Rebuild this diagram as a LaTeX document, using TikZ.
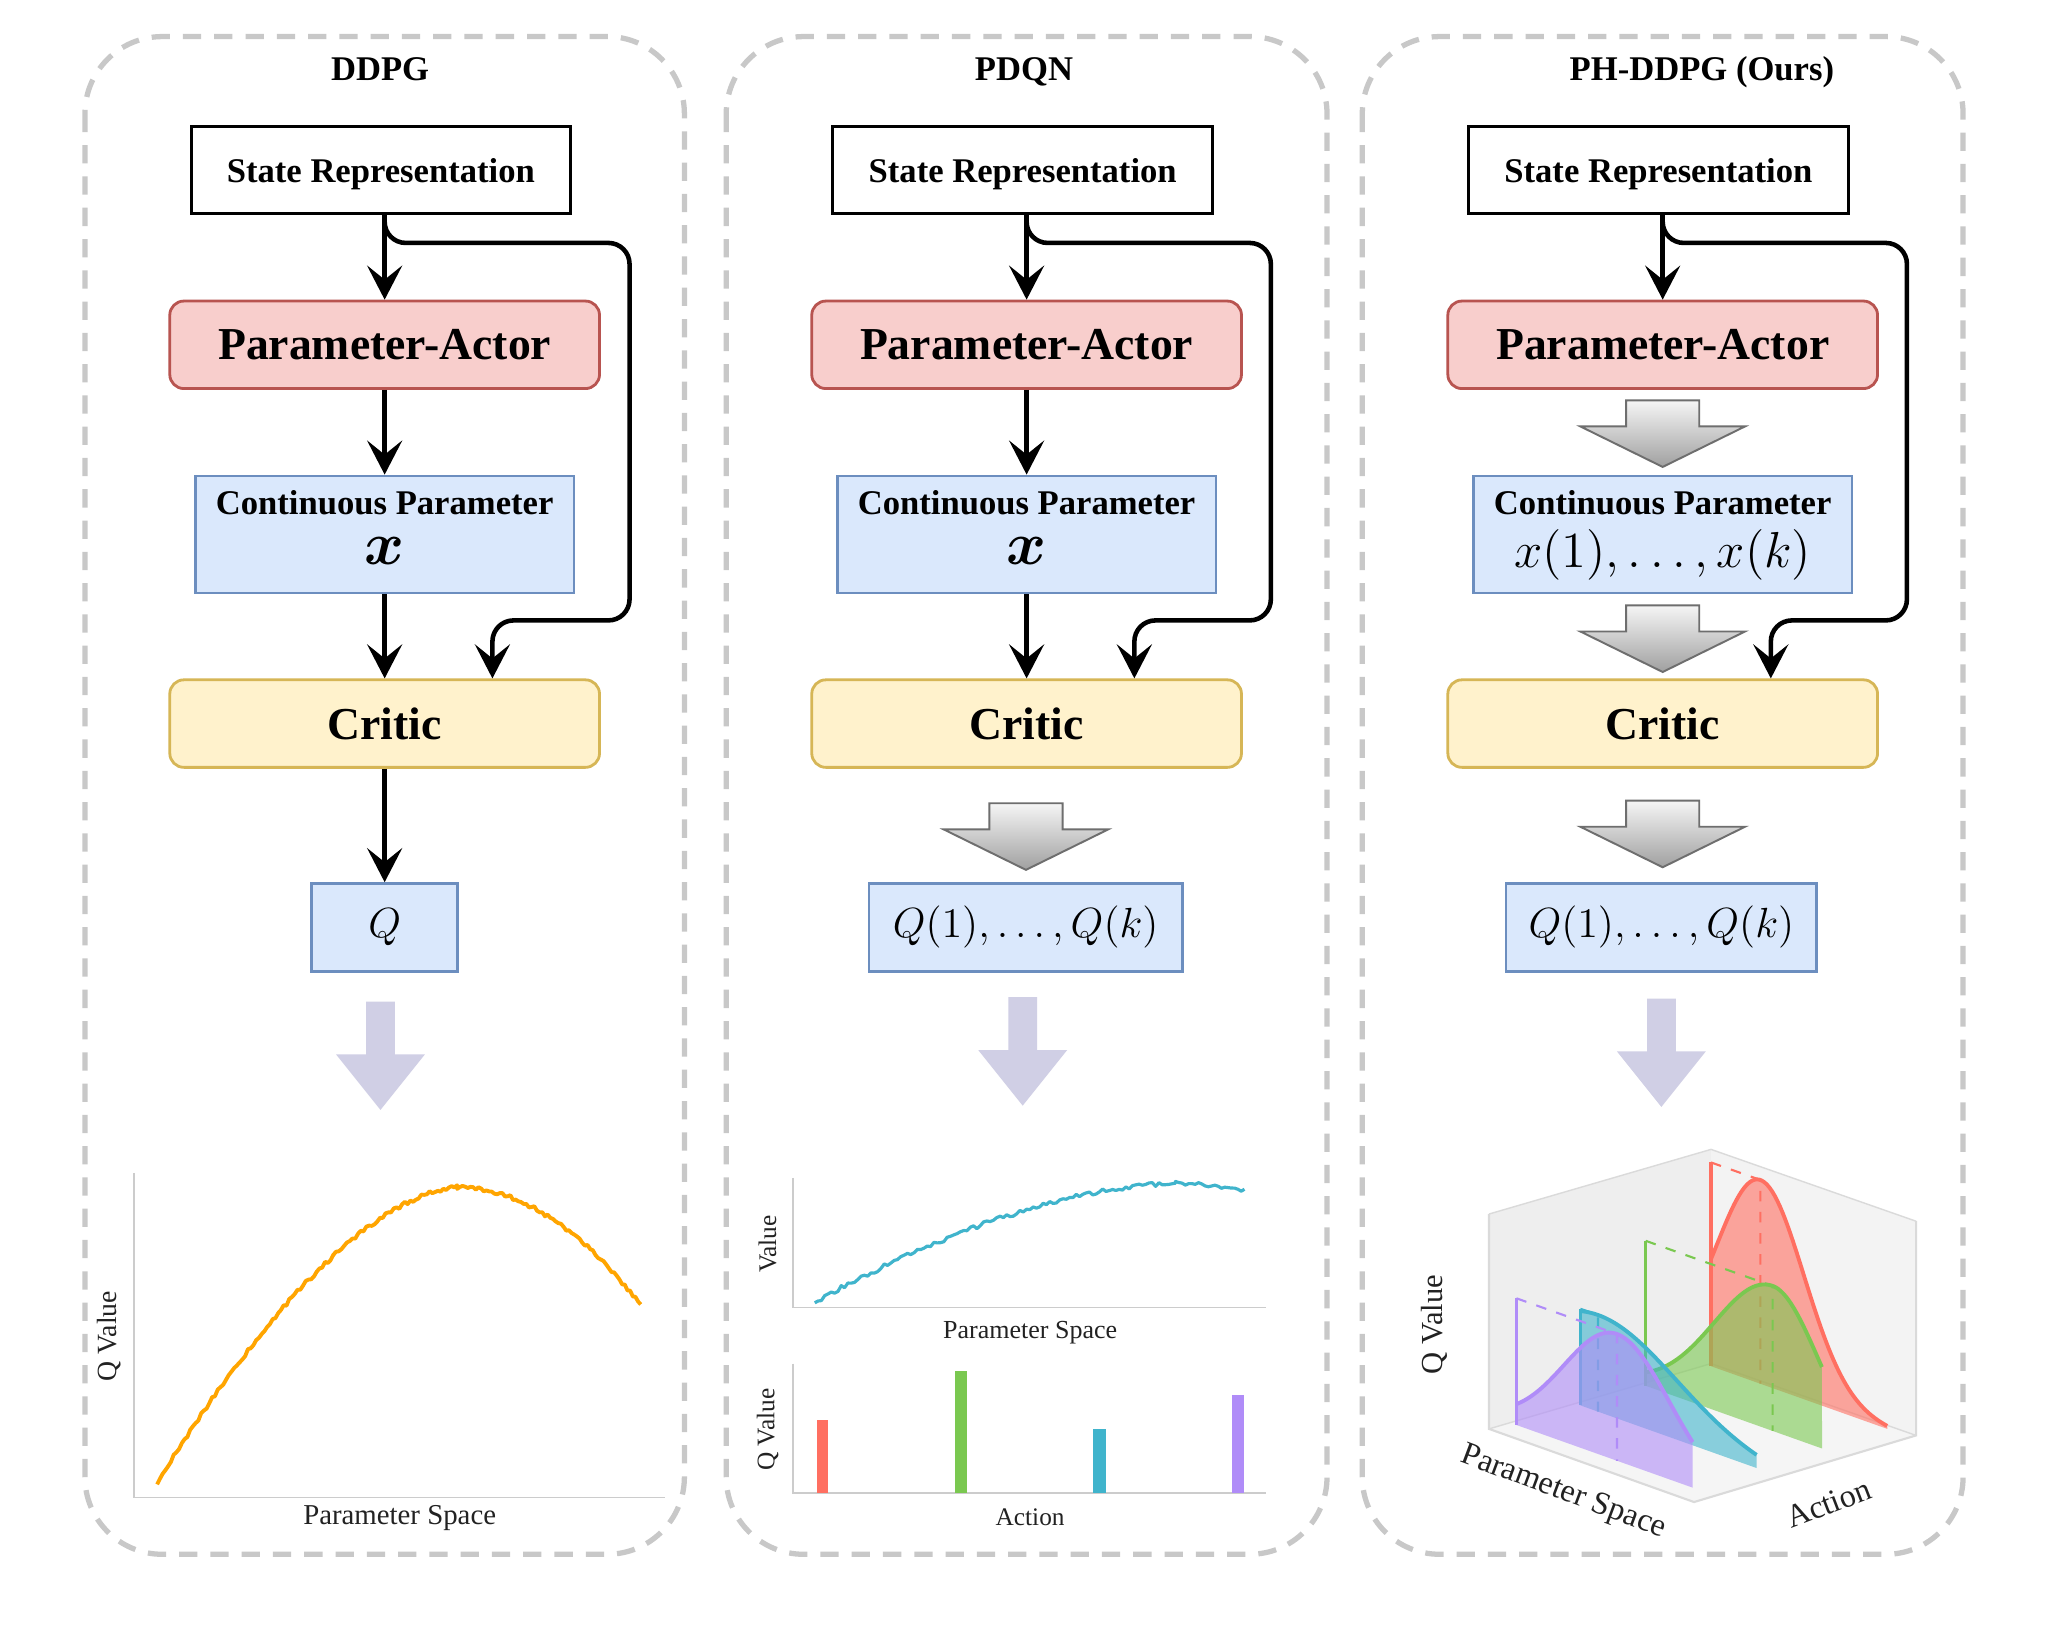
\documentclass[tikz,border=0pt]{standalone}
\usepackage{amsmath}
\usepackage{fontspec}
\setmainfont{Liberation Serif}
\usetikzlibrary{arrows.meta,calc}
\newcommand{\pxu}{0.01306cm}
\definecolor{panelgray}{RGB}{200,200,200}
\definecolor{actorfill}{RGB}{248,206,204}
\definecolor{actordraw}{RGB}{184,84,80}
\definecolor{contfill}{RGB}{218,232,252}
\definecolor{contdraw}{RGB}{108,142,191}
\definecolor{criticfill}{RGB}{255,242,204}
\definecolor{criticdraw}{RGB}{214,182,86}
\definecolor{lav}{RGB}{208,207,229}
\definecolor{axisgray}{RGB}{204,204,204}
\definecolor{txtgray}{RGB}{34,34,34}
\definecolor{qorange}{RGB}{255,165,0}
\definecolor{qcyan}{RGB}{64,180,204}
\definecolor{qred}{RGB}{255,111,97}
\definecolor{qgreen}{RGB}{122,200,80}
\definecolor{qpurple}{RGB}{176,140,248}
\definecolor{wallc}{RGB}{238,238,238}
\definecolor{wallr}{RGB}{243,243,243}
\definecolor{floorc}{RGB}{245,245,245}
\definecolor{walledge}{RGB}{218,218,218}
\definecolor{garrowdraw}{RGB}{110,110,110}
\definecolor{gtop}{RGB}{245,245,245}
\definecolor{gbot}{RGB}{160,160,160}
\tikzset{
 panel/.style={draw=panelgray, line width=1.5pt, dash pattern=on 5.2pt off 3.7pt, rounded corners=22pt},
 ttl/.style={font=\fontsize{9.85}{12}\selectfont\bfseries, inner sep=0pt, anchor=base},
 statebox/.style={draw=black, line width=0.9pt, fill=white, inner sep=0pt, text depth=0pt, minimum width=290.6*\pxu, minimum height=66.6*\pxu, font=\fontsize{9.85}{12}\selectfont\bfseries},
 bigbox/.style={line width=0.8pt, rounded corners=4pt, inner sep=0pt, minimum width=329*\pxu, minimum height=67*\pxu, font=\fontsize{13}{15}\selectfont\bfseries},
 actorbox/.style={bigbox, draw=actordraw, fill=actorfill},
 criticbox/.style={bigbox, draw=criticdraw, fill=criticfill},
 contbox/.style={draw=contdraw, fill=contfill, line width=0.8pt, inner sep=0pt, minimum width=290*\pxu, minimum height=89.5*\pxu},
 conttext/.style={font=\fontsize{9.85}{12}\selectfont\bfseries, inner sep=0pt},
 mathtext/.style={inner sep=0pt, font=\fontsize{13.6}{16}\selectfont},
 bigx/.style={inner sep=0pt, font=\fontsize{16}{18}\selectfont},
 qbox/.style={draw=contdraw, fill=contfill, line width=0.8pt, inner sep=0pt, minimum height=67*\pxu, font=\fontsize{12.2}{14}\selectfont},
 conn/.style={line width=1.3pt, -{Stealth[length=0.34cm, width=0.35cm, inset=0.14cm]}},
 axisline/.style={draw=axisgray, line width=0.5pt},
 lbl/.style={text=txtgray, inner sep=0pt},
 garrow/.pic={\path[draw=garrowdraw, line width=0.55pt, top color=gtop, bottom color=gbot] (-28,-25) -- (28,-25) -- (28,-5) -- (63,-5) -- (0,26) -- (-63,-5) -- (-28,-5) -- cycle;},
 larrow/.pic={\fill[lav] (-11,-41.5) -- (11,-41.5) -- (11,-1) -- (34,-1) -- (0,41.5) -- (-34,-1) -- (-11,-1) -- cycle;},
}
\begin{document}
\begin{tikzpicture}[x=0.01306cm, y=-0.01306cm]
\pgfmathsetseed{4242}
\fill[white] (0,0) rectangle (1568,1259);
\useasboundingbox (0,0) rectangle (1568,1259);

% panels
\draw[panel] (65,28) rectangle (524,1190);
\draw[panel] (556,28) rectangle (1016,1190);
\draw[panel] (1043,28) rectangle (1503,1190);

% titles
\node[ttl] (t1) at (291,61.8) {DDPG};
\node[ttl] (t2) at (784,61.8) {PDQN};
\node[ttl] (t3) at (1303,61.8) {PH-DDPG (Ours)};

% ================= column 1 : DDPG
\node[statebox] (s1) at (291.6,130.2) {State Representation};
\node[actorbox] (a1) at (294.5,264) {Parameter-Actor};
\node[contbox] (p1) at (294.5,409.2) {};
\node[conttext] (p1t) at (294.5,384.5) {Continuous Parameter};
\node[bigx] (p1m) at (294.5,422) {$\boldsymbol{x}$};
\node[criticbox] (c1) at (294.5,554) {Critic};
\node[qbox, minimum width=112*\pxu] (q1) at (294.5,710) {$Q$};
\draw[conn] (s1.south -| a1.north) -- (a1.north);
\draw[conn] (a1.south) -- (p1.north);
\draw[conn] (p1.south) -- (c1.north);
\draw[conn] (c1.south) -- (q1.north);
\coordinate (r1) at (482,186);
\coordinate (l1) at (377,475);
\draw[conn, rounded corners=6pt] (s1.south -| a1.north) |- (r1) |- (l1) -- (l1 |- c1.north);
\pic (la1) at (291.3,808.3) {larrow};

% ================= column 2 : PDQN
\node[statebox] (s2) at (783,130.2) {State Representation};
\node[actorbox] (a2) at (786,264) {Parameter-Actor};
\node[contbox] (p2) at (786,409.2) {};
\node[conttext] (p2t) at (786,384.5) {Continuous Parameter};
\node[bigx] (p2m) at (786,422) {$\boldsymbol{x}$};
\node[criticbox] (c2) at (786,554) {Critic};
\node[qbox, minimum width=240*\pxu] (q2) at (785.3,710) {$Q(1),\ldots,Q(k)$};
\draw[conn] (s2.south -| a2.north) -- (a2.north);
\draw[conn] (a2.south) -- (p2.north);
\draw[conn] (p2.south) -- (c2.north);
\coordinate (r2) at (973,186);
\coordinate (l2) at (868.5,475);
\draw[conn, rounded corners=6pt] (s2.south -| a2.north) |- (r2) |- (l2) -- (l2 |- c2.north);
\pic (ga2) at (785.5,640) {garrow};
\pic (la2) at (783,805) {larrow};

% ================= column 3 : PH-DDPG
\node[statebox] (s3) at (1269.7,130.2) {State Representation};
\node[actorbox] (a3) at (1273,264) {Parameter-Actor};
\node[contbox] (p3) at (1273,409.2) {};
\node[conttext] (p3t) at (1273,384.5) {Continuous Parameter};
\node[mathtext] (p3m) at (1273,425) {$x(1),\ldots,x(k)$};
\node[criticbox] (c3) at (1273,554) {Critic};
\node[qbox, minimum width=238*\pxu] (q3) at (1272,710) {$Q(1),\ldots,Q(k)$};
\draw[conn] (s3.south -| a3.north) -- (a3.north);
\coordinate (r3) at (1460,186);
\coordinate (l3) at (1355.8,475);
\draw[conn, rounded corners=6pt] (s3.south -| a3.north) |- (r3) |- (l3) -- (l3 |- c3.north);
\pic (ga3a) at (1273,331.5) {garrow};
\pic (ga3b) at (1273,488.5) {garrow};
\pic (ga3c) at (1273,638) {garrow};
\pic (la3) at (1272,806) {larrow};

% ================= DDPG chart
\draw[axisline] (102.6,898) -- (102.6,1146.5) -- (509.4,1146.5);
\draw[qorange, line width=1.1pt, line join=round]
  plot[domain=120.3:350, samples=110] (\x, {909 + 227*pow(max((350-\x)/230,0.0001),1.65) + 1.6*rand})
  -- plot[domain=350:490.6, samples=70] (\x, {909 + 0.00458*(\x-350)*(\x-350) + 1.6*rand});
\node[lbl, rotate=90, font=\fontsize{7.9}{9}\selectfont] (y1) at (83.8,1023) {Q Value};
\node[lbl, font=\fontsize{8.2}{10}\selectfont] (x1) at (306,1162) {Parameter Space};

% ================= PDQN charts
\draw[axisline] (607.4,901.8) -- (607.4,1001.1) -- (969.2,1001.1);
\draw[qcyan, line width=0.9pt, line join=round]
  plot[domain=623.8:900, samples=110] (\x, {906 + 91*pow(max((900-\x)/276,0.0001),1.7) + 1.8*rand})
  -- plot[domain=900:952.8, samples=22] (\x, {906 + 0.002*(\x-900)*(\x-900) + 1.5*rand});
\node[lbl, rotate=90, font=\fontsize{7.2}{9}\selectfont] (y2) at (587.7,952.4) {Value};
\node[lbl, font=\fontsize{7.4}{9}\selectfont] (x2) at (788.7,1020) {Parameter Space};
\draw[axisline] (607.4,1044) -- (607.4,1143.3) -- (969.2,1143.3);
\fill[qred] (625.2,1087.2) rectangle (634.2,1143.3);
\fill[qgreen] (730.9,1049.5) rectangle (740.3,1143.3);
\fill[qcyan] (837,1093.8) rectangle (846.4,1143.3);
\fill[qpurple] (943.4,1068.1) rectangle (952.8,1143.3);
\node[lbl, rotate=90, font=\fontsize{7.2}{9}\selectfont] (y3) at (587.7,1094.6) {Q Value};
\node[lbl, font=\fontsize{7.2}{9}\selectfont] (x3) at (788.7,1161.5) {Action};

% ================= PH-DDPG 3D chart
\fill[wallc] (1140,929.5) -- (1310,880) -- (1310,1044) -- (1140,1094) -- cycle;
\fill[wallr] (1310,880) -- (1467,935) -- (1467,1099) -- (1310,1044) -- cycle;
\fill[floorc] (1140,1094) -- (1310,1044) -- (1467,1099) -- (1297,1150) -- cycle;
\draw[walledge, line width=0.4pt] (1140,929.5) -- (1310,880) -- (1467,935);
\draw[walledge, line width=0.4pt] (1140,1094) -- (1310,1044) -- (1467,1099);
\draw[walledge, line width=0.6pt] (1140,929.5) -- (1140,1094) -- (1297,1150) -- (1467,1099) -- (1467,935);

% red (back)
\fill[qred, fill opacity=0.6] (1310,1046) -- plot[domain=0:1, samples=70] ({1310+135*\x},{1046+48*\x-156*exp(-(\x-0.28)*(\x-0.28)/0.122)}) -- (1445,1094) -- cycle;
\draw[qred, line width=1.1pt] plot[domain=0:1, samples=70] ({1310+135*\x},{1046+48*\x-156*exp(-(\x-0.28)*(\x-0.28)/0.122)});
\draw[qred, line width=1pt] (1310,1046) -- (1310,890);
\draw[qred, dashed, line width=0.6pt] (1310,890) -- (1347.8,903.4) -- (1347.8,1059.4);

% green
\fill[qgreen, fill opacity=0.6] (1260,1061) -- plot[domain=0:1, samples=70] ({1260+135*\x},{1061+48*\x-111*exp(-(\x-0.72)*(\x-0.72)/ifthenelse(\x<0.72,0.218,0.135))}) -- (1395,1109) -- cycle;
\draw[qgreen, line width=1.1pt] plot[domain=0:1, samples=70] ({1260+135*\x},{1061+48*\x-111*exp(-(\x-0.72)*(\x-0.72)/ifthenelse(\x<0.72,0.218,0.135))});
\draw[qgreen, line width=1pt] (1260,1061) -- (1260,950);
\draw[qgreen, dashed, line width=0.6pt] (1260,950) -- (1357.2,984.6) -- (1357.2,1095.6);

% cyan
\fill[qcyan, fill opacity=0.6] (1210,1076) -- plot[domain=0:1, samples=70] ({1210+135*\x},{1076+48*\x-74*exp(-(\x-0.1)*(\x-0.1)/0.405)}) -- (1345,1124) -- cycle;
\draw[qcyan, line width=1.1pt] plot[domain=0:1, samples=70] ({1210+135*\x},{1076+48*\x-74*exp(-(\x-0.1)*(\x-0.1)/0.405)});
\draw[qcyan, line width=1pt] (1210,1076) -- (1210,1002);
\draw[qcyan, dashed, line width=0.6pt] (1210,1002) -- (1223.5,1006.8) -- (1223.5,1080.8);

% purple (front)
\fill[qpurple, fill opacity=0.6] (1161,1091) -- plot[domain=0:1, samples=70] ({1161+135*\x},{1091+48*\x-97*exp(-(\x-0.57)*(\x-0.57)/0.18)}) -- (1296,1139) -- cycle;
\draw[qpurple, line width=1.1pt] plot[domain=0:1, samples=70] ({1161+135*\x},{1091+48*\x-97*exp(-(\x-0.57)*(\x-0.57)/0.18)});
\draw[qpurple, line width=1pt] (1161,1091) -- (1161,994);
\draw[qpurple, dashed, line width=0.6pt] (1161,994) -- (1238,1021.4) -- (1238,1118.4);

\node[lbl, rotate=90, font=\fontsize{8.7}{10}\selectfont] (zq) at (1098,1014) {Q Value};
\node[lbl, rotate=-20.5, font=\fontsize{9.2}{11}\selectfont] (zp) at (1197,1143) {Parameter Space};
\node[lbl, rotate=21, font=\fontsize{9.2}{11}\selectfont] (za) at (1400,1151) {Action};
\end{tikzpicture}
\end{document}
